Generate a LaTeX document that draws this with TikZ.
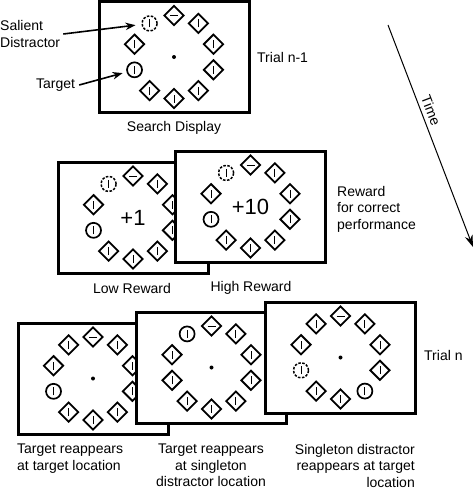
\documentclass[tikz,border=0pt]{standalone}
\usepackage{fontspec}
\setmainfont{Liberation Sans}
\usetikzlibrary{shapes.geometric,arrows.meta,calc}

\tikzset{
  screen/.style={draw, line width=3pt, fill=white, minimum width=150pt, minimum height=111pt, inner sep=0pt},
  item/.style={draw, shape=diamond, line width=1.8pt, minimum width=20pt, minimum height=20pt, inner sep=0pt},
  target/.style={draw, circle, line width=1.7pt, minimum size=15pt, inner sep=0pt},
  salient/.style={draw, circle, dash pattern=on 2.5pt off 1.5pt, line width=1.5pt, minimum size=15pt, inner sep=0pt},
  bar/.style={line width=0.9pt},
  lbl/.style={font=\fontsize{14}{16.5}\selectfont, inner sep=0pt},
  pointer/.style={line width=1.6pt, -{Stealth[length=10pt,width=7.5pt]}},
}

% one search display: name, centre, target angle, distractor angle (0 = none)
\newcommand{\stimring}[4]{%
  \node[screen] (#1) at (#2) {};
  \foreach \a [count=\i] in {90,54,18,-18,-54,-90,-126,-162,162,126} {
    \ifnum\a=#3\relax
      \node[target] (#1-\i) at ($(#1)+(\a:41.5)$) {};
    \else\ifnum\a=#4\relax
      \node[salient] (#1-\i) at ($(#1)+(\a:41.5)$) {};
    \else
      \node[item] (#1-\i) at ($(#1)+(\a:41.5)$) {};
    \fi\fi
    \ifnum\a=90\relax
      \draw[bar] (#1-\i.center) ++(-4,0) -- ++(8,0);
    \else
      \draw[bar] (#1-\i.center) ++(0,-4) -- ++(0,8);
    \fi
  }
}

\begin{document}
\begin{tikzpicture}[x=1pt, y=1pt]
\useasboundingbox (0,0) rectangle (474,-488);

% trial n-1
\stimring{sd}{174,-57}{-162}{126}
\fill (sd) circle (2);
\node[lbl] (sdname) at (174,-128) {Search Display};
\node[lbl, anchor=west] (trialA) at (257,-57) {Trial n-1};
\node[lbl, anchor=west, align=left] (salient) at (0,-34) {Salient\\Distractor};
\node[lbl] (tgt) at (55.5,-85) {Target};
\draw[pointer, shorten >=6pt] ([xshift=3pt]salient.east) -- (sd-10);
\draw[pointer, shorten >=4pt] ([xshift=4pt]tgt.east) -- (sd-8);

% reward
\stimring{low}{133,-217.5}{-162}{126}
\node[font=\fontsize{22}{22}\selectfont] (plusA) at (low) {+1};
\stimring{high}{250.5,-206.5}{-162}{126}
\node[font=\fontsize{22}{22}\selectfont] (plusB) at (high) {+10};
\node[lbl] (lowname) at (132,-288) {Low Reward};
\node[lbl] (highname) at (251,-288) {High Reward};
\node[lbl, anchor=west, align=left] (reward) at (337,-209) {Reward\\for correct\\performance};

% trial n
\stimring{repA}{93,-378.5}{-162}{0}
\fill (repA) circle (2);
\stimring{repB}{211.5,-367.5}{126}{0}
\fill (repB) circle (2);
\stimring{repC}{340.5,-357.5}{-54}{-162}
\fill (repC) circle (2);
\node[lbl, anchor=west] (trialB) at (424,-355) {Trial n};
\node[lbl, anchor=north west, align=left] (repAname) at (17,-444) {Target reappears\\at target location};
\node[lbl, anchor=north, align=center] (repBname) at (211,-444) {Target reappears\\at singleton\\distractor location};
\node[lbl, anchor=north east, align=right] (repCname) at (415,-444) {Singleton distractor\\reappears at target\\location};

% time
\coordinate (t0) at (388,-25);
\coordinate (t1) at (473,-247);
\draw[line width=1pt, -{Stealth[length=12pt,width=8pt]}] (t0) -- node[lbl, sloped, above=4pt, pos=0.4] (time) {Time} (t1);
\end{tikzpicture}
\end{document}
